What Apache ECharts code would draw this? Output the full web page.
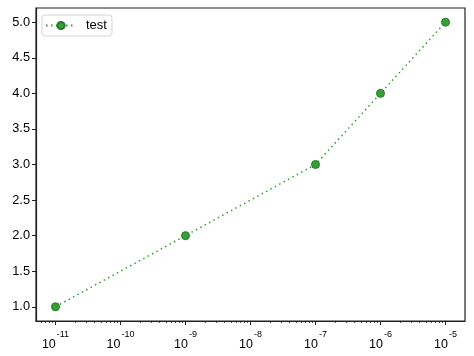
<!DOCTYPE html>
<html><head><meta charset="utf-8">
<script src="https://cdn.jsdelivr.net/npm/echarts@6/dist/echarts.min.js"></script>
<style>html,body{margin:0;padding:0;background:#fff}#c{width:474px;height:356px}</style>
</head><body><div id="c"></div>
<script>
const xValues = [1e-11, 1e-9, 1e-7, 1e-6, 1e-5];
const yValues = [1, 2, 3, 4, 5];
const seriesName = 'test';
const xMajorTicks = [1e-11, 1e-10, 1e-9, 1e-8, 1e-7, 1e-6, 1e-5];
const yTicks = [1.0, 1.5, 2.0, 2.5, 3.0, 3.5, 4.0, 4.5, 5.0];
const xMinorTicks = [];
for (let e = -12; e <= -5; e++) for (let k = 2; k <= 9; k++) xMinorTicks.push(k * Math.pow(10, e));

const xMin = Math.pow(10, -11.3), xMax = Math.pow(10, -4.7);
const font = 'Liberation Sans, Arial, Helvetica, sans-serif';
const chart = echarts.init(document.getElementById('c'), null, {renderer: 'canvas'});
const gridPos = {left: 36, right: 9, top: 8, bottom: 35};
chart.setOption({
  animation: false,
  grid: Object.assign({show: true, borderColor: '#222', borderWidth: 1.2, backgroundColor: '#fff', containLabel: false}, gridPos),
  legend: {
    left: 42, top: 15, orient: 'vertical',
    padding: [4, 5, 4, 3],
    itemWidth: 30, itemHeight: 9, itemGap: 4,
    borderColor: '#d4d4d4', borderWidth: 1, borderRadius: 3,
    textStyle: {fontFamily: font, fontSize: 13, color: '#000', padding: [0, 0, 0, 5]},
    data: [seriesName]
  },
  xAxis: [{
    type: 'log', logBase: 10, min: xMin, max: xMax,
    axisLine: {show: true, lineStyle: {color: '#222', width: 1.2}},
    axisTick: {show: true, customValues: xMajorTicks, length: 4, lineStyle: {color: '#222', width: 1}},
    axisLabel: {
      customValues: xMajorTicks, margin: 9, color: '#000',
      formatter: v => '{b|10}{s|' + Math.round(Math.log10(v)) + '}',
      rich: {b: {fontFamily: font, fontSize: 12.5, color: '#000', padding: [8, 0, 0, 0]}, s: {fontFamily: font, fontSize: 9, color: '#000', verticalAlign: 'top', padding: [0, 0, 6, 1]}}
    },
    splitLine: {show: false}
  }, {
    type: 'log', logBase: 10, min: xMin, max: xMax, position: 'bottom',
    axisLine: {show: false},
    axisTick: {show: true, customValues: xMinorTicks, length: 2, lineStyle: {color: '#222', width: 0.8}},
    axisLabel: {show: false},
    splitLine: {show: false}
  }],
  yAxis: {
    type: 'value', min: 0.8, max: 5.2,
    axisLine: {show: true, lineStyle: {color: '#222', width: 1.2}},
    axisTick: {show: true, customValues: yTicks, length: 4, lineStyle: {color: '#222', width: 1}},
    axisLabel: {customValues: yTicks, formatter: v => v.toFixed(1), fontFamily: font, fontSize: 12.8, color: '#000', margin: 6},
    splitLine: {show: false}
  },
  series: [{
    name: seriesName, type: 'line', xAxisIndex: 0,
    data: xValues.map((x, i) => [x, yValues[i]]),
    symbol: 'circle', symbolSize: 8,
    itemStyle: {color: '#36a036', borderColor: '#247a24', borderWidth: 1},
    lineStyle: {color: '#2ca02c', type: [1.5, 3.5], width: 1.5},
    z: 3
  }]
});
</script></body></html>
